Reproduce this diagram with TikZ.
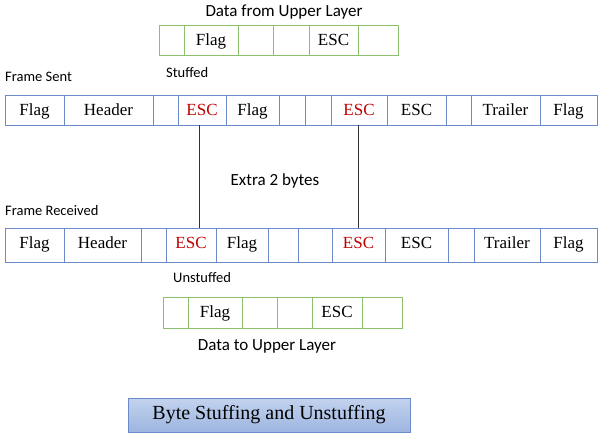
\documentclass[tikz,border=0pt]{standalone}
\usepackage{fontspec}
\setmainfont{Liberation Serif}
\newfontfamily\lab{Carlito}
\begin{document}
\begin{tikzpicture}[x=1pt,y=-1pt,
  blu/.style={draw=bordblue,line width=0.8pt},
  grn/.style={draw=bordgreen,line width=0.8pt},
  lbl/.style={font=\lab\fontsize{14.5}{14.5}\selectfont,inner sep=0pt},
  big/.style={font=\lab\fontsize{17}{17}\selectfont,inner sep=0pt},
  cel/.style={font=\fontsize{17}{17}\selectfont,inner sep=0pt,text height=11pt,text depth=3pt}]
\useasboundingbox (0,0) rectangle (600,437);
\definecolor{escred}{HTML}{C00000}
\definecolor{bordblue}{HTML}{6A8BC8}
\definecolor{bordgreen}{HTML}{8CC06C}
\definecolor{tfill1}{HTML}{C3D3EE}
\definecolor{tfill2}{HTML}{9DB5E0}
% top green data
\node[big] (t1) at (284,12) {Data from Upper Layer};
\foreach \a/\b/\t [count=\i] in {159/184/,184/238/Flag,238/273/,273/309/,309/358/ESC,358/398/}
  {\draw[grn] (\a,25) rectangle (\b,55); \node[cel] (g\i) at ({(\a+\b)/2},41) {\t};}
% frame sent
\node[lbl,anchor=west] (fs) at (5,77) {Frame Sent};
\node[lbl,anchor=west] (st) at (166,73) {Stuffed};
\foreach \a/\b/\t/\c [count=\i] in {5/64/Flag/black,64/153/Header/black,153/178//black,178/226/ESC/escred,226/279/Flag/black,279/305//black,305/331//black,331/387/ESC/escred,387/446/ESC/black,446/471//black,471/540/Trailer/black,540/597/Flag/black}
  {\draw[blu] (\a,95) rectangle (\b,125); \node[cel,text=\c] (s\i) at ({(\a+\b)/2},111) {\t};}
\node[big] (ex) at (275,181) {Extra 2 bytes};
% frame received
\node[lbl,anchor=west] (fr) at (5,211) {Frame Received};
\foreach \a/\b/\t/\c [count=\i] in {5/64/Flag/black,64/141/Header/black,141/166//black,166/216/ESC/escred,216/268/Flag/black,268/298//black,298/332//black,332/385/ESC/escred,385/448/ESC/black,448/474//black,474/540/Trailer/black,540/597/Flag/black}
  {\draw[blu] (\a,228) rectangle (\b,262); \node[cel,text=\c] (r\i) at ({(\a+\b)/2},244) {\t};}
\coordinate (a1) at (199,125); \coordinate (b1) at (199,228);
\coordinate (a2) at (358,125); \coordinate (b2) at (358,228);
\draw[line width=1pt,black!80] (a1) -- (b1);
\draw[line width=1pt,black!80] (a2) -- (b2);
\node[lbl,anchor=west] (un) at (173,278) {Unstuffed};
\foreach \a/\b/\t [count=\i] in {163/188/,188/242/Flag,242/277/,277/312/,312/362/ESC,362/402/}
  {\draw[grn] (\a,297) rectangle (\b,328); \node[cel] (h\i) at ({(\a+\b)/2},313) {\t};}
\node[big] (t2) at (267,346) {Data to Upper Layer};
\node[draw=bordblue,line width=0.8pt,top color=tfill1,bottom color=tfill2,
  minimum width=282pt,minimum height=34pt,inner sep=0pt,font=\fontsize{20}{20}\selectfont] (ti) at (269,415) {Byte Stuffing and Unstuffing};
\end{tikzpicture}
\end{document}
